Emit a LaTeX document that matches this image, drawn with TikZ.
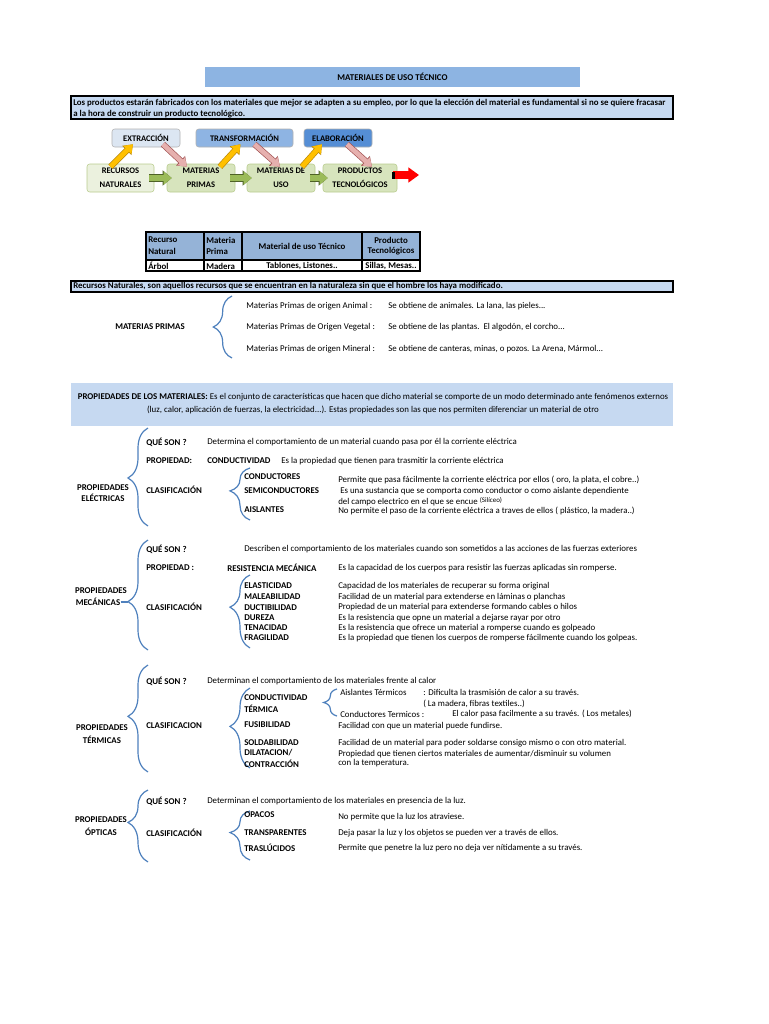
\documentclass[tikz,border=0pt]{standalone}
\usepackage{fontspec}
\setmainfont{Carlito}
\usetikzlibrary{arrows.meta,calc,decorations.pathreplacing}

\definecolor{hdrblue}{HTML}{8DB4E2}
\definecolor{boxblue}{HTML}{C6D9F1}
\definecolor{tabblue}{HTML}{95B3D7}
\definecolor{braceblue}{HTML}{4F81BD}
\definecolor{extfill}{HTML}{DCE6F2}
\definecolor{trffill}{HTML}{8EB4E3}
\definecolor{elafill}{HTML}{558ED5}
\definecolor{gfilla}{HTML}{EBF1DE}
\definecolor{gfillb}{HTML}{D7E4BD}
\definecolor{gline}{HTML}{B9CC8E}
\definecolor{garrfill}{HTML}{9BBB59}
\definecolor{garrline}{HTML}{4F6228}
\definecolor{yfill}{HTML}{FFC000}
\definecolor{yline}{HTML}{B7860B}
\definecolor{pfill}{HTML}{E6B0AE}
\definecolor{pline}{HTML}{A05050}

\newcommand\tx{\fontsize{6.65}{7.8}\selectfont}

\begin{document}
\begin{tikzpicture}[
  x=0.75pt, y=-0.75pt,
  every node/.style={inner sep=0pt, font=\tx},
  lbl/.style={anchor=west, font=\tx\bfseries},
  txt/.style={anchor=west},
  cat/.style={font=\tx\bfseries},
  band/.style={fill=boxblue, draw=black, line width=0.9pt},
  fbox/.style={draw=gray!60, rounded corners=2pt, align=center,
    font=\fontsize{6.4}{10.5}\selectfont\bfseries},
  bbox/.style={fbox, minimum height=13.5pt},
  gbox/.style={fbox, draw=gline, fill=gfillb, minimum width=51pt, minimum height=21pt},
  yarr/.style={draw=yfill, line width=3.6pt, -{Triangle[length=6pt,width=8pt]},
    preaction={draw=yline, line width=4.6pt, -{Triangle[length=6.6pt,width=9.4pt]}}},
  parr/.style={draw=pfill, line width=3.6pt, -{Triangle[length=6pt,width=8pt]},
    preaction={draw=pline, line width=4.6pt, -{Triangle[length=6.6pt,width=9.4pt]}}},
  garr/.style={draw=garrfill, line width=4.4pt, -{Triangle[length=6pt,width=9.5pt]},
    preaction={draw=garrline, line width=5.4pt, -{Triangle[length=6.8pt,width=11pt]}}},
  rarr/.style={draw=red, line width=5.5pt, -{Triangle[length=8pt,width=11pt]}},
  bigbrace/.style={draw=braceblue, line width=0.9pt, decorate,
    decoration={brace, amplitude=15pt, aspect=#1}},
  bigbrace/.default=0.5,
  smbrace/.style={draw=braceblue, line width=0.9pt, decorate,
    decoration={brace, amplitude=15pt, aspect=#1}},
  smbrace/.default=0.5]

  \fill[white] (0,0) rectangle (768,1024);
  \useasboundingbox (0,0) rectangle (768,1024);

  % ---- title and intro ----------------------------------------------------
  \fill[hdrblue] (205,67) rectangle (580,87);
  \node[cat] (title) at (392.5,77) {MATERIALES DE USO TÉCNICO};
  \draw[band] (71,96) rectangle (673,119);
  \node[lbl] (introA) at (73,103) {Los productos estarán fabricados con los materiales que mejor se adapten a su empleo, por lo que la elección del material es fundamental si no se quiere fracasar};
  \node[lbl] (introB) at (73,114) {a la hora de construir un producto tecnológico.};

  % ---- process chain ------------------------------------------------------
  \node[bbox, fill=extfill, minimum width=51pt]    (ext) at (146,138)   {EXTRACCIÓN};
  \node[bbox, fill=trffill, minimum width=72.75pt] (trf) at (244.5,138) {TRANSFORMACIÓN};
  \node[bbox, fill=elafill, minimum width=51pt]    (ela) at (338,138)   {ELABORACIÓN};
  \node[gbox, fill=gfilla, minimum width=50.25pt]  (rn)  at (120.5,178) {RECURSOS\\NATURALES};
  \node[gbox] (mp) at (201,178) {MATERIAS\\PRIMAS};
  \node[gbox] (mu) at (281,178) {MATERIAS DE\\USO};
  \node[gbox, minimum width=55.5pt] (ptec) at (360,178) {PRODUCTOS\\TECNOLÓGICOS};

  \draw[garr] ($(rn.east)+(-5,0)$) -- ($(mp.west)+(5,0)$);
  \draw[garr] ($(mp.east)+(-5,0)$) -- ($(mu.west)+(5,0)$);
  \draw[garr] ($(mu.east)+(-5,0)$) -- ($(ptec.west)+(5,0)$);

  \draw[yarr] ($(rn.north)+(-10,3)$)  -- ($(ext.south)+(-13,-3)$);
  \draw[parr] ($(ext.south)+(17,-3)$) -- ($(mp.north)+(-14,3)$);
  \draw[yarr] ($(mp.north)+(19,3)$)   -- ($(trf.south)+(-4,-3)$);
  \draw[parr] ($(trf.south)+(10,-3)$) -- ($(mu.north)+(-1,3)$);
  \draw[yarr] ($(mu.north)+(21,3)$)   -- ($(ela.south)+(-16,-3)$);
  \draw[parr] ($(ela.south)+(9,-3)$)  -- ($(ptec.north)+(12,3)$);

  \coordinate (outEnd) at (419,175);
  \draw[rarr] ($(ptec.east)+(-4,-3)$) -- (outEnd);
  \fill[black] (392,171.5) rectangle (395,178.5);

  % ---- table --------------------------------------------------------------
  \fill[tabblue] (146,232) rectangle (420,260);
  \draw[line width=0.8pt] (146,232) rectangle (420,271);
  \draw[line width=0.8pt] (146,260) -- (420,260);
  \foreach \cx in {204,242,362}
    \draw[line width=0.8pt] (\cx,232) -- (\cx,271);
  \node[lbl] (tRecA) at (148,240) {Recurso};
  \node[lbl] (tRecB) at (148,251) {Natural};
  \node[lbl] (tMatA) at (206,240) {Materia};
  \node[lbl] (tMatB) at (206,251) {Prima};
  \node[cat] (tUso)  at (302,246) {Material de uso Técnico};
  \node[cat] (tProA) at (391,240) {Producto};
  \node[cat] (tProB) at (391,251) {Tecnológicos};
  \node[lbl] (dRec)  at (148,266) {Árbol};
  \node[lbl] (dMat)  at (206,266) {Madera};
  \node[cat] (dUso)  at (302,266) {Tablones, Listones..};
  \node[cat] (dPro)  at (391,266) {Sillas, Mesas..};

  % ---- materias primas ----------------------------------------------------
  \draw[band, line width=1.1pt] (71,281) rectangle (673,292);
  \node[lbl] (recNat) at (73,286.5) {Recursos Naturales, son aquellos recursos que se encuentran en la naturaleza sin que el hombre los haya modificado.};

  \node[lbl] (mpLbl) at (115,327) {MATERIAS PRIMAS};
  \coordinate (mpBot) at (232,358);
  \coordinate (mpTop) at (232,296);
  \draw[draw=braceblue, line width=0.9pt, decorate,
    decoration={brace, amplitude=14pt}] (mpBot) -- (mpTop);
  \node[txt] (mpA)  at (246,306) {Materias Primas de origen Animal :};
  \node[txt] (mpB)  at (246,327) {Materias Primas de Origen Vegetal :};
  \node[txt] (mpC)  at (246,349) {Materias Primas de origen Mineral :};
  \node[txt] (mpAd) at (388,306) {Se obtiene de animales. La lana, las pieles...};
  \node[txt] (mpBd) at (388,327) {Se obtiene de las plantas.\ \ El algodón, el corcho...};
  \node[txt] (mpCd) at (388,349) {Se obtiene de canteras, minas, o pozos. La Arena, Mármol...};

  % ---- propiedades --------------------------------------------------------
  \fill[boxblue] (71,383) rectangle (673,426);
  \node (propA) at (373,397) {\textbf{PROPIEDADES DE LOS MATERIALES:} Es el conjunto de características que hacen que dicho material se comporte de un modo determinado ante fenómenos externos};
  \node (propB) at (373,410) {(luz, calor, aplicación de fuerzas, la electricidad...). Estas propiedades son las que nos permiten diferenciar un material de otro};

  % ---- electricas ---------------------------------------------------------
  \node[cat] (elA) at (103,488) {PROPIEDADES};
  \node[cat] (elB) at (103,498) {ELÉCTRICAS};
  \coordinate (elBot) at (148,526);
  \coordinate (elTop) at (148,428);
  \draw[bigbrace=0.49] (elBot) -- (elTop);
  \node[lbl] (elQue)  at (146,442) {QUÉ SON ?};
  \node[txt] (elQueD) at (207,442) {Determina el comportamiento de un material cuando pasa por él la corriente eléctrica};
  \node[lbl] (elPro)  at (146,461) {PROPIEDAD:};
  \node[lbl] (elCon)  at (207,461) {CONDUCTIVIDAD};
  \node[txt] (elConD) at (281,461) {Es la propiedad que tienen para trasmitir la corriente eléctrica};
  \node[lbl] (elCla)  at (146,490) {CLASIFICACIÓN};
  \coordinate (elcBot) at (250,520);
  \coordinate (elcTop) at (250,468);
  \draw[smbrace=0.56] (elcBot) -- (elcTop);
  \node[lbl] (elC1) at (244,477) {CONDUCTORES};
  \node[lbl] (elC2) at (244,491) {SEMICONDUCTORES};
  \node[lbl] (elC3) at (244,510) {AISLANTES};
  \node[txt] (elC1d) at (338,480) {Permite que pasa fácilmente la corriente eléctrica por ellos ( oro, la plata, el cobre..)};
  \node[txt] (elC2d) at (340,491) {Es una sustancia que se comporta como conductor o como aislante dependiente};
  \node[txt] (elC2e) at (338,502) {del campo electrico en el que se encue \raisebox{1.5pt}{\fontsize{5.2}{6}\selectfont(Silíceo)}};
  \node[txt] (elC3d) at (338,511) {No permite el paso de la corriente eléctrica a traves de ellos ( plástico, la madera..)};

  % ---- mecanicas ----------------------------------------------------------
  \node[cat] (mcA) at (101,591) {PROPIEDADES};
  \node[cat] (mcB) at (98,602) {MECÁNICAS};
  \coordinate (mcBot) at (148,650);
  \coordinate (mcTop) at (148,540);
  \coordinate (mcTip) at (128,602);
  \draw[bigbrace=0.44] (mcBot) -- (mcTop);
  \draw[braceblue, line width=0.9pt] (mcB.east) -- (mcTip);
  \node[lbl] (mcQue)  at (146,549) {QUÉ SON ?};
  \node[txt] (mcQueD) at (244,549) {Describen el comportamiento de los materiales cuando son sometidos a las acciones de las fuerzas exteriores};
  \node[lbl] (mcPro)  at (146,568) {PROPIEDAD :};
  \node[lbl] (mcRes)  at (227,568) {RESISTENCIA MECÁNICA};
  \node[txt] (mcResD) at (338,568) {Es la capacidad de los cuerpos para resistir las fuerzas aplicadas sin romperse.};
  \node[lbl] (mcCla)  at (146,607) {CLASIFICACIÓN};
  \coordinate (mccBot) at (250,648);
  \coordinate (mccTop) at (250,575);
  \draw[smbrace=0.56] (mccBot) -- (mccTop);
  \node[lbl] (mcC1) at (244,586)   {ELASTICIDAD};
  \node[lbl] (mcC2) at (244,597)   {MALEABILIDAD};
  \node[lbl] (mcC3) at (244,607.5) {DUCTIBILIDAD};
  \node[lbl] (mcC4) at (244,618)   {DUREZA};
  \node[lbl] (mcC5) at (244,628)   {TENACIDAD};
  \node[lbl] (mcC6) at (244,638)   {FRAGILIDAD};
  \node[txt] (mcC1d) at (338,586)   {Capacidad de los materiales de recuperar su forma original};
  \node[txt] (mcC2d) at (338,597)   {Facilidad de un material para extenderse en láminas o planchas};
  \node[txt] (mcC3d) at (338,607.5) {Propiedad de un material para extenderse formando cables o hilos};
  \node[txt] (mcC4d) at (338,618)   {Es la resistencia que opne un material a dejarse rayar por otro};
  \node[txt] (mcC5d) at (338,628)   {Es la resistencia que ofrece un material a romperse cuando es golpeado};
  \node[txt] (mcC6d) at (338,638)   {Es la propiedad que tienen los cuerpos de romperse fácilmente cuando los golpeas.};

  % ---- termicas -----------------------------------------------------------
  \node[cat] (tmA) at (102,728) {PROPIEDADES};
  \node[cat] (tmB) at (102,740) {TÉRMICAS};
  \coordinate (tmBot) at (148,772);
  \coordinate (tmTop) at (148,665);
  \draw[bigbrace=0.52] (tmBot) -- (tmTop);
  \node[lbl] (tmQue)  at (146,681) {QUÉ SON ?};
  \node[txt] (tmQueD) at (207,681) {Determinan el comportamiento de los materiales frente al calor};
  \node[lbl] (tmCla)  at (146,726) {CLASIFICACION};
  \coordinate (tmcBot) at (250,768);
  \coordinate (tmcTop) at (250,688);
  \draw[smbrace=0.52] (tmcBot) -- (tmcTop);
  \node[lbl] (tmC1)  at (244,698) {CONDUCTIVIDAD};
  \node[lbl] (tmC1b) at (244,709) {TÉRMICA};
  \node[lbl] (tmC2)  at (244,725) {FUSIBILIDAD};
  \node[lbl] (tmC3)  at (244,743) {SOLDABILIDAD};
  \node[lbl] (tmC4)  at (244,753) {DILATACION/};
  \node[lbl] (tmC4b) at (244,764) {CONTRACCIÓN};
  \coordinate (tmsBot) at (337,716);
  \coordinate (tmsTop) at (337,689);
  \draw[draw=braceblue, line width=0.9pt, decorate,
    decoration={brace, amplitude=10pt}] (tmsBot) -- (tmsTop);
  \node[txt] (tmAis)  at (340,692) {Aislantes Térmicos};
  \node[txt] (tmAisD) at (423,692) {: Dificulta la trasmisión de calor a su través.};
  \node[txt] (tmAisE) at (423,704) {( La madera, fibras textiles..)};
  \node[txt] (tmCnd)  at (340,714) {Conductores Termicos :};
  \node[txt] (tmCndD) at (452,714) {El calor pasa facilmente a su través. ( Los metales)};
  \node[txt] (tmC2d)  at (338,726) {Facilidad con que un material puede fundirse.};
  \node[txt] (tmC3d)  at (338,743) {Facilidad de un material para poder soldarse consigo mismo o con otro material.};
  \node[txt] (tmC4d)  at (338,754) {Propiedad que tienen ciertos materiales de aumentar/disminuir su volumen};
  \node[txt] (tmC4e)  at (338,763) {con la temperatura.};

  % ---- opticas ------------------------------------------------------------
  \node[cat] (opA) at (101,820) {PROPIEDADES};
  \node[cat] (opB) at (101,832) {ÓPTICAS};
  \coordinate (opBot) at (148,862);
  \coordinate (opTop) at (148,790);
  \draw[bigbrace=0.55] (opBot) -- (opTop);
  \node[lbl] (opQue)  at (146,801) {QUÉ SON ?};
  \node[txt] (opQueD) at (207,801) {Determinan el comportamiento de los materiales en presencia de la luz.};
  \node[lbl] (opCla)  at (146,833) {CLASIFICACIÓN};
  \coordinate (opcBot) at (250,860);
  \coordinate (opcTop) at (250,811);
  \draw[smbrace=0.56] (opcBot) -- (opcTop);
  \node[lbl] (opC1) at (244,815) {OPACOS};
  \node[lbl] (opC2) at (244,833) {TRANSPARENTES};
  \node[lbl] (opC3) at (244,848) {TRASLÚCIDOS};
  \node[txt] (opC1d) at (338,817) {No permite que la luz los atraviese.};
  \node[txt] (opC2d) at (338,833) {Deja pasar la luz y los objetos se pueden ver a través de ellos.};
  \node[txt] (opC3d) at (338,848) {Permite que penetre la luz pero no deja ver nítidamente a su través.};
\end{tikzpicture}
\end{document}
